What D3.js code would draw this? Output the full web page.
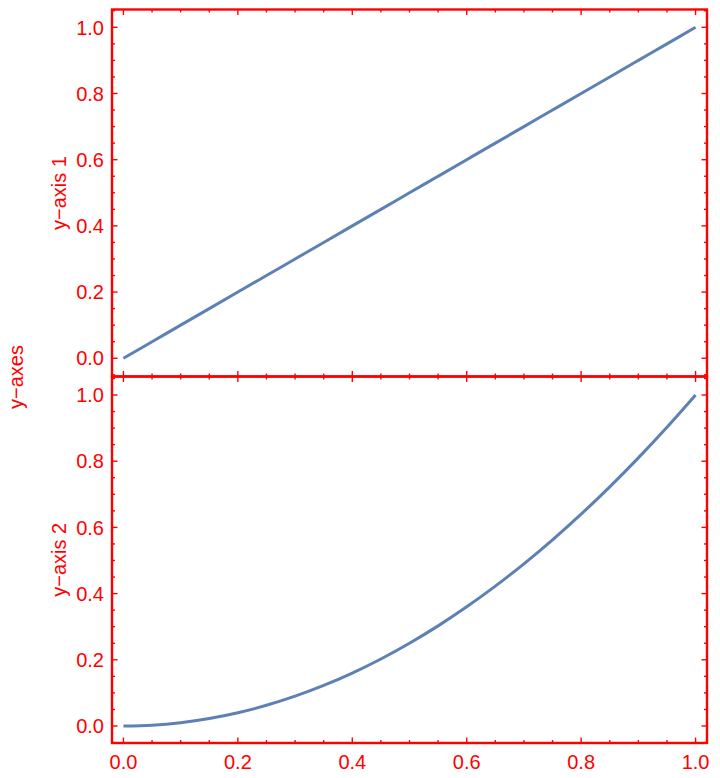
<!DOCTYPE html>
<html>
<head>
<meta charset="utf-8">
<script src="https://cdn.jsdelivr.net/npm/d3@7"></script>
<style>
  html, body { margin: 0; padding: 0; background: #fff; }
  svg { display: block; }
  text { font-family: "Liberation Sans", Arial, sans-serif; fill: #ff0000; }
</style>
</head>
<body>
<svg id="chart" width="720" height="778"></svg>
<script>
// ---- data ----
const xValues  = [0, 0.05, 0.1, 0.15, 0.2, 0.25, 0.3, 0.35, 0.4, 0.45, 0.5, 0.55, 0.6, 0.65, 0.7, 0.75, 0.8, 0.85, 0.9, 0.95, 1.0];
const series1  = [0, 0.05, 0.1, 0.15, 0.2, 0.25, 0.3, 0.35, 0.4, 0.45, 0.5, 0.55, 0.6, 0.65, 0.7, 0.75, 0.8, 0.85, 0.9, 0.95, 1.0];
const series2  = [0, 0.0025, 0.01, 0.0225, 0.04, 0.0625, 0.09, 0.1225, 0.16, 0.2025, 0.25, 0.3025, 0.36, 0.4225, 0.49, 0.5625, 0.64, 0.7225, 0.81, 0.9025, 1.0];
const xTickLabels = ["0.0", "0.2", "0.4", "0.6", "0.8", "1.0"];
const yTickLabels = ["0.0", "0.2", "0.4", "0.6", "0.8", "1.0"];
const panelLabels = ["y\u2212axis 1", "y\u2212axis 2"];
const outerLabel = "y\u2212axes";

// ---- layout ----
const svg = d3.select("#chart");
const RED = "#ff0000";
const LINE = "#5e81b5";
const left = 112, right = 707;
const panels = [
  { top: 9.5, bottom: 376.5, domain: [-0.0551, 1.0538], data: series1, label: panelLabels[0] },
  { top: 376.5, bottom: 743, domain: [-0.0514, 1.0559], data: series2, label: panelLabels[1] }
];

const x = d3.scaleLinear().domain([-0.02, 1.02]).range([left, right]);
const xMajor = xTickLabels.map(Number);
const minorVals = d3.range(0, 21).map(i => i * 0.05);
const yMinorVals = d3.range(-1, 22).map(i => i * 0.05);
const MAJ = 5.5, MIN = 3;
const FS = 20;

panels.forEach((p, pi) => {
  const y = d3.scaleLinear().domain(p.domain).range([p.bottom, p.top]);
  const g = svg.append("g");
  const yMajor = yTickLabels.map(Number);
  const isMajor = (v, arr) => arr.some(m => Math.abs(m - v) < 1e-9);

  // ticks - left & right (y)
  yMinorVals.forEach(v => {
    const len = isMajor(v, yMajor) ? MAJ : MIN;
    if (y(v) < p.top || y(v) > p.bottom) return;
    g.append("line").attr("x1", left).attr("x2", left + len).attr("y1", y(v)).attr("y2", y(v))
      .attr("stroke", RED).attr("stroke-width", 1.4);
    g.append("line").attr("x1", right).attr("x2", right - len).attr("y1", y(v)).attr("y2", y(v))
      .attr("stroke", RED).attr("stroke-width", 1.4);
  });
  // ticks - top & bottom (x)
  minorVals.forEach(v => {
    const len = isMajor(v, xMajor) ? MAJ : MIN;
    g.append("line").attr("x1", x(v)).attr("x2", x(v)).attr("y1", p.bottom).attr("y2", p.bottom - len)
      .attr("stroke", RED).attr("stroke-width", 1.4);
    g.append("line").attr("x1", x(v)).attr("x2", x(v)).attr("y1", p.top).attr("y2", p.top + len)
      .attr("stroke", RED).attr("stroke-width", 1.4);
  });

  // y tick labels
  yTickLabels.forEach(t => {
    g.append("text").attr("x", left - 8).attr("y", y(+t)).attr("dy", "0.36em")
      .attr("text-anchor", "end").attr("font-size", FS).text(t);
  });

  // series line
  const line = d3.line().x((d, i) => x(xValues[i])).y(d => y(d)).curve(d3.curveCatmullRom);
  g.append("path").datum(p.data).attr("d", line).attr("fill", "none")
    .attr("stroke", LINE).attr("stroke-width", 3).attr("stroke-linecap", "butt");

  // frame
  g.append("rect").attr("x", left).attr("y", p.top).attr("width", right - left).attr("height", p.bottom - p.top)
    .attr("fill", "none").attr("stroke", RED).attr("stroke-width", 2.4);

  // panel label
  const cy = (p.top + p.bottom) / 2;
  g.append("text").attr("transform", `translate(66,${cy}) rotate(-90)`)
    .attr("text-anchor", "middle").attr("font-size", FS).text(p.label);
});

// x tick labels
xTickLabels.forEach(t => {
  svg.append("text").attr("x", x(+t)).attr("y", 769).attr("text-anchor", "middle")
    .attr("font-size", FS).text(t);
});

// outer label
svg.append("text").attr("transform", "translate(23,377) rotate(-90)")
  .attr("text-anchor", "middle").attr("font-size", FS).text(outerLabel);
</script>
</body>
</html>
